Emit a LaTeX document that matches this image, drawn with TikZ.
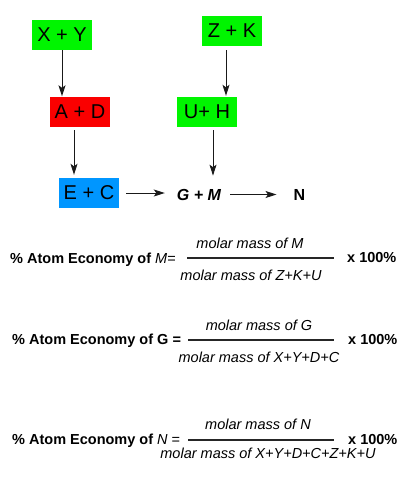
\documentclass[tikz,border=0pt]{standalone}
\usepackage{fontspec}
\setmainfont{Liberation Sans}
\usetikzlibrary{arrows.meta}

\definecolor{boxgreen}{RGB}{0,245,0}
\definecolor{boxred}{RGB}{250,0,0}
\definecolor{boxblue}{RGB}{0,150,255}

\begin{document}
\begin{tikzpicture}[x=1pt, y=1pt]
  \tikzstyle{species} = [rectangle, minimum width=60pt, minimum height=30pt, inner sep=0pt, align=center, font=\fontsize{20}{24}\selectfont]
  \tikzstyle{product} = [inner sep=0pt, font=\fontsize{16}{19}\selectfont\bfseries]
  \tikzstyle{eqtext} = [inner sep=0pt, anchor=base west, font=\fontsize{14.5}{17}\selectfont\bfseries]
  \tikzstyle{fracpart} = [inner sep=0pt, anchor=base, font=\fontsize{14.5}{17}\selectfont\itshape]
  \tikzstyle{connector} = [line width=1pt, draw=black!90, -{Stealth[length=11pt, width=7pt, inset=2.5pt]}]
  \tikzstyle{fracbar} = [line width=1.2pt, draw=black!85]

  \useasboundingbox (0,0) rectangle (406,-496);

  % Left branch
  \node (xy) at (62,-35) [species, fill=boxgreen] {X + Y};
  \node (ad) at (80,-111.5) [species, fill=boxred] {A + D};
  \node (ec) at (89,-193) [species, fill=boxblue] {E + C};

  % Right branch
  \node (zk) at (232,-31) [species, fill=boxgreen] {Z + K};
  \node (uh) at (207,-112) [species, fill=boxgreen] {U+ H};

  % Products
  \node (gm) at (199,-194.5) [product] {\itshape G + M};
  \node (n) at (299.5,-194.5) [product] {N};

  % Arrows
  \draw[connector] (xy.south) -- (xy.south |- ad.north);
  \draw[connector, shorten <=4pt, shorten >=1pt] ([xshift=-6pt]zk.south) -- ([xshift=-6pt]zk.south |- uh.north);
  \draw[connector, shorten <=3.5pt, shorten >=3pt] ([xshift=-6pt]ad.south) -- ([xshift=-6pt]ad.south |- ec.north);
  \draw[connector, shorten <=3pt, shorten >=13pt] ([xshift=6pt]uh.south) -- ([xshift=6pt]uh.south |- gm.north);
  \draw[connector, shorten <=7pt, shorten >=12pt] (ec.east) -- (ec.east -| gm.west);
  \draw[connector, shorten <=9pt, shorten >=17pt] (gm.east) -- (n.west);

  % Atom economy of M
  \node (aeM) at (10,-263) [eqtext] {\% Atom Economy of \mdseries\itshape M\upshape=};
  \node (numM) at (250,-248) [fracpart] {molar mass of M};
  \node (denM) at (251,-280) [fracpart] {molar mass of Z+K+U};
  \node (pcM) at (347,-262) [eqtext] {x 100\%};
  \draw[fracbar] (187,-258) -- (334,-258);

  % Atom economy of G
  \node (aeG) at (12,-344) [eqtext] {\% Atom Economy of G =};
  \node (numG) at (259,-330) [fracpart] {molar mass of G};
  \node (denG) at (259,-362) [fracpart] {molar mass of X+Y+D+C};
  \node (pcG) at (348,-344) [eqtext] {x 100\%};
  \draw[fracbar] (188,-340) -- (334,-340);

  % Atom economy of N
  \node (aeN) at (12,-444) [eqtext] {\% Atom Economy of \mdseries\itshape N\upshape\ =};
  \node (numN) at (258,-429) [fracpart] {molar mass of N};
  \node (denN) at (268,-458) [fracpart] {molar mass of X+Y+D+C+Z+K+U};
  \node (pcN) at (348,-444) [eqtext] {x 100\%};
  \draw[fracbar] (188,-440) -- (334,-440);
\end{tikzpicture}
\end{document}
